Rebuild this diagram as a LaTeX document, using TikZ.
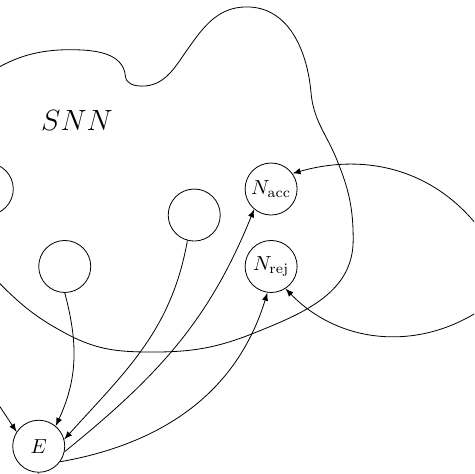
\documentclass[tikz,border=0pt]{standalone}
\usetikzlibrary{positioning}
\begin{document}
\begin{tikzpicture}[>=latex,
        neuron/.style={circle,draw,minimum size=0.9cm,inner sep=0pt}]
        % fix the frame
        \useasboundingbox (0,0) rectangle (8.2,8.2);
        \clip (0,0) rectangle (8.2,8.2);

        % draw the network region
        \draw (-0.7,6.55) to[out=40,in=180] (1.21,7.34)
              to[out=0,in=95] (2.17,6.88)
              to[out=-85,in=180] (2.45,6.71)
              to[out=0,in=-125] (3.24,7.34)
              to[out=55,in=180] (4.27,8.08)
              to[out=0,in=95] (5.38,6.60)
              to[out=-85,in=112] (5.83,5.43)
              to[out=-68,in=90] (6.11,4.05)
              to[out=-90,in=22] (4.45,2.46)
              to[out=202,in=0] (2.65,2.11)
              to[out=180,in=-28] (1.16,2.42)
              to[out=152,in=-45] (0,3.29)
              to[out=135,in=-90] (-1.0,5.0)
              to[out=90,in=220] cycle;
        \node (snn) at (1.33,6.12) {\Large $SNN$};

        % the neurons
        \node[neuron] (n1) at (-0.22,4.93) {};
        \node[neuron] (n2) at (1.12,3.59) {};
        \node[neuron] (n3) at (3.36,4.48) {};
        \node[neuron] (nacc) at (4.69,4.93) {$N_{\mathrm{acc}}$};
        \node[neuron] (nrej) at (4.69,3.59) {$N_{\mathrm{rej}}$};
        \node[neuron] (e) at (0.67,0.48) {$E$};

        % loose ends outside the frame
        \coordinate (r1) at (8.39,4.12);
        \coordinate (r2) at (8.39,2.89);
        \coordinate (c1) at (-0.09,1.30);
        \coordinate (c2) at (0.67,-0.54);

        % connections
        \draw[->] (n2.south) to[out=-75,in=65] (e.50);
        \draw[->] (n3.-105) to[out=-100,in=48] (e.15);
        \draw[->] (e.-12) to[out=39,in=-112] (nacc.-130);
        \draw[->] (e.-36) to[out=10,in=-107] (nrej.-98);
        \draw[->] (r1) to[out=125,in=16] (nacc.36);
        \draw[->] (r2) to[out=-145,in=-46] (nrej.-57);
        \draw[->] (c1) -- (e.147);
        \draw[->] (c2) -- (e.south);
\end{tikzpicture}
\end{document}
